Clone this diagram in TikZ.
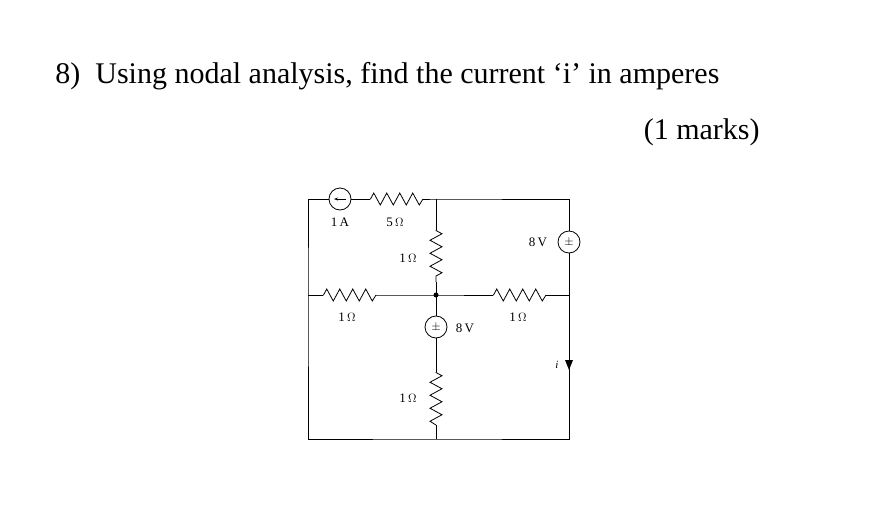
\documentclass[tikz,border=0pt]{standalone}
\usepackage{fontspec}
\setmainfont{Liberation Serif}
\usetikzlibrary{decorations.pathmorphing,arrows.meta}
\begin{document}
\begin{tikzpicture}[x=1pt,y=-1pt,line width=0.8pt,
  res/.style={decorate,decoration={zigzag,segment length=13pt,amplitude=6pt,pre length=0.5pt,post length=0.5pt}},
  src/.style={circle,draw,minimum size=22pt,inner sep=0pt,font=\fontsize{13}{13}\selectfont},
  lbl/.style={font=\fontsize{13}{13}\selectfont,inner sep=1pt}]
\useasboundingbox (0,0) rectangle (876,507);
\node[anchor=base west,font=\fontsize{30}{30}\selectfont,inner sep=0] (title) at (55,83) {8)\enspace Using nodal analysis, find the current ‘i’ in amperes};
\node[anchor=base east,font=\fontsize{30}{30}\selectfont,inner sep=0] (marks) at (760,139) {(1 marks)};
% nodes
\coordinate (TL) at (308,199); \coordinate (TM) at (436,199); \coordinate (TR) at (569,199);
\coordinate (ML) at (308,295); \coordinate (MM) at (436,295); \coordinate (MR) at (569,295);
\coordinate (BL) at (308,439); \coordinate (BM) at (436,439); \coordinate (BR) at (569,439);
\node[src] (cs) at (340,199) {};
\draw[-{Stealth[length=4pt]},line width=0.6pt] (346,199) -- (334,199);
\node[src] (vr) at (569,242) {$\pm$};
\node[src] (vm) at (436,327) {$\pm$};
\coordinate (r5a) at (370,199); \coordinate (r5b) at (423,199);
\coordinate (rva) at (436,230); \coordinate (rvb) at (436,282);
\coordinate (rla) at (323,295); \coordinate (rlb) at (376,295);
\coordinate (rra) at (493,295); \coordinate (rrb) at (546,295);
\coordinate (rba) at (436,372); \coordinate (rbb) at (436,425);
% wires
\draw (cs) -- (TL) -- (ML) -- (BL) -- (BM) -- (BR) -- (MR);
\draw (cs) -- (r5a); \draw[res] (r5a) -- (r5b); \draw (r5b) -- (TM) -- (TR) -- (vr) -- (MR);
\draw (TM) -- (rva); \draw[res] (rva) -- (rvb); \draw (rvb) -- (MM);
\draw (ML) -- (rla); \draw[res] (rla) -- (rlb); \draw (rlb) -- (MM) -- (rra); \draw[res] (rra) -- (rrb); \draw (rrb) -- (MR);
\draw (MM) -- (vm) -- (rba); \draw[res] (rba) -- (rbb); \draw (rbb) -- (BM);
\fill (MM) circle (2.5pt);
\fill (565,360) -- (573,360) -- (569,370) -- cycle;
% labels
\node[lbl] (l1) at (340,222) {1\,A};
\node[lbl] (l2) at (395,222) {5\,$\Omega$};
\node[lbl] (l3) at (408,258) {1\,$\Omega$};
\node[lbl] (l4) at (538,242) {8\,V};
\node[lbl] (l5) at (347,317) {1\,$\Omega$};
\node[lbl] (l6) at (518,317) {1\,$\Omega$};
\node[lbl] (l7) at (465,328) {8\,V};
\node[lbl] (l8) at (408,398) {1\,$\Omega$};
\node[lbl,font=\fontsize{11}{11}\selectfont\itshape] (l9) at (557,365) {i};
\end{tikzpicture}
\end{document}
